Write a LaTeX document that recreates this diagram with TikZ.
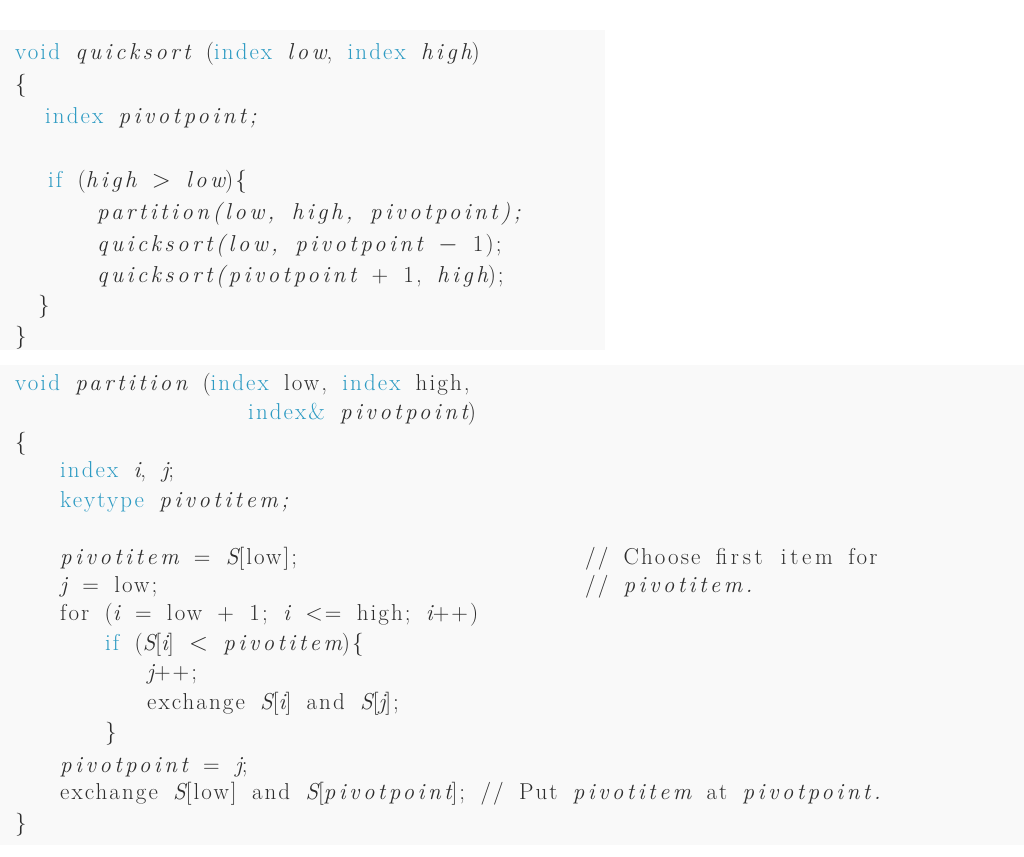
\documentclass[tikz,border=0pt]{standalone}
\usepackage{fontspec}
\setmainfont{Latin Modern Roman}[LetterSpace=9,WordSpace=1.7]
\newfontfamily\itf{Latin Modern Roman}[LetterSpace=15,WordSpace=1.5]
\definecolor{kw}{RGB}{45,155,195}
\definecolor{txt}{RGB}{45,45,45}
\definecolor{bg}{RGB}{249,249,249}
\newcommand{\kw}[1]{\textcolor{kw}{#1}}
\newcommand{\iv}[1]{{\itf\itshape #1}}
\begin{document}
\begin{tikzpicture}[x=1pt,y=-1pt,
  ln/.style={anchor=base west,inner sep=0pt,text=txt,font=\fontsize{23}{25}\selectfont}]
\useasboundingbox (0,0) rectangle (1024,856);
\fill[bg] (0,30) rectangle (605,350);
\fill[bg] (0,365) rectangle (1024,845);
\node[ln] (a1) at (15,60) {\kw{void} \iv{quicksort} (\kw{index} \iv{low}, \kw{index} \iv{high})};
\node[ln] (a2) at (15,92) {\{};
\node[ln] (a3) at (45,123) {\kw{index} \iv{pivotpoint;}};
\node[ln] (a4) at (48,187) {\kw{if} (\iv{high} $>$ \iv{low})\{};
\node[ln] (a5) at (97,219) {\iv{partition(low, high, pivotpoint);}};
\node[ln] (a6) at (97,251) {\iv{quicksort(low, pivotpoint} $-$ 1);};
\node[ln] (a7) at (97,282) {\iv{quicksort(pivotpoint} + 1, \iv{high});};
\node[ln] (a8) at (38,312) {\}};
\node[ln] (a9) at (15,343) {\}};
\node[ln] (b1) at (15,390) {\kw{void} \iv{partition} (\kw{index} low, \kw{index} high,};
\node[ln] (b2) at (248,419) {\kw{index\&} \iv{pivotpoint})};
\node[ln] (b3) at (15,449) {\{};
\node[ln] (b4) at (60,477) {\kw{index} \iv{i}, \iv{j};};
\node[ln] (b5) at (60,507) {\kw{keytype} \iv{pivotitem;}};
\node[ln] (b6) at (60,564) {\iv{pivotitem} = \iv{S}[low];};
\node[ln] (c1) at (585,564) {// Choose {\addfontfeature{LetterSpace=16}first item} for};
\node[ln] (b7) at (60,592) {\iv{j} = low;};
\node[ln] (c2) at (585,592) {// \iv{pivotitem.}};
\node[ln] (b8) at (60,620) {for (\iv{i} = low + 1; \iv{i} <= high; \iv{i}++)};
\node[ln] (b9) at (105,650) {\kw{if} (\iv{S}[\iv{i}] $<$ \iv{pivotitem})\{};
\node[ln] (b10) at (147,679) {\iv{j}++;};
\node[ln] (b11) at (147,709) {exchange \iv{S}[\iv{i}] and \iv{S}[\iv{j}];};
\node[ln] (b12) at (105,739) {\}};
\node[ln] (b13) at (60,772) {\iv{pivotpoint} = \iv{j};};
\node[ln] (b14) at (60,799) {exchange \iv{S}[low] and \iv{S}[\iv{pivotpoint}]; // Put \iv{pivotitem} at \iv{pivotpoint.}};
\node[ln] (b15) at (15,830) {\}};
\end{tikzpicture}
\end{document}
